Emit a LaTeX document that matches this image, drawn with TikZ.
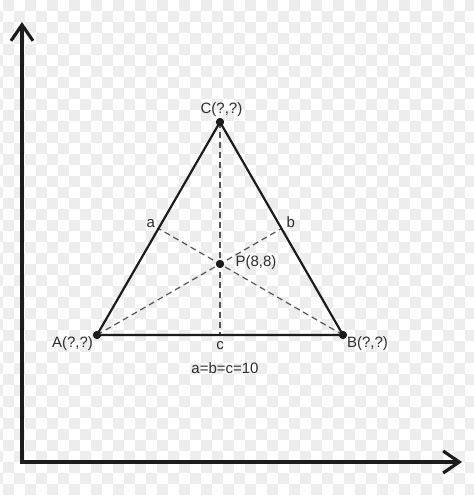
\documentclass[tikz,border=0pt]{standalone}
\usepackage{fontspec}
\setmainfont{Liberation Sans}
\usetikzlibrary{arrows.meta,calc}
\definecolor{ink}{HTML}{1C1C1C}
\definecolor{txt}{HTML}{2E2E2E}
\definecolor{dashc}{HTML}{555555}
\definecolor{check}{HTML}{EDEDED}
\begin{document}
\begin{tikzpicture}[x=1pt,y=-1pt,
  axis/.style={ink,line width=3.2pt,-{Straight Barb[length=16pt,width=22pt,line width=3.2pt]}},
  side/.style={ink,line width=2.2pt},
  median/.style={dashc,line width=1.2pt,dash pattern=on 6pt off 4pt},
  vertex/.style={circle,fill=ink,inner sep=0pt,minimum size=8pt},
  lbl/.style={text=txt,font=\fontsize{15}{17}\selectfont,anchor=base,inner sep=0pt}]
\useasboundingbox (0,0) rectangle (474,496);
% checkerboard background
\fill[white] (0,0) rectangle (474,496);
\begin{scope}
\clip (0,0) rectangle (474,496);
\foreach \i in {0,...,43}{
  \foreach \j in {0,...,45}{
    \pgfmathtruncatemacro{\myparity}{mod(\i+\j,2)}
    \ifnum\myparity=0
      \fill[check] ({2.8+11*(\i-1)},{-0.3+11*(\j-1)}) rectangle ++(11,11);
    \fi
  }
}
\end{scope}
% axes
\coordinate (O) at (22,462);
\coordinate (Ytip) at (22,22);
\coordinate (Xtip) at (462,462);
\draw[axis] ([yshift=-1.6pt]O) -- (Ytip);
\draw[axis] ([xshift=-1.6pt]O) -- (Xtip);
% triangle vertices
\node[vertex] (A) at (97,335) {};
\node[vertex] (B) at (343,335) {};
\node[vertex] (C) at (220,122) {};
\coordinate (ma) at ($(A.center)!0.5!(C.center)$);
\coordinate (mb) at ($(B.center)!0.5!(C.center)$);
\coordinate (mc) at ($(A.center)!0.5!(B.center)$);
\node[vertex] (P) at (220,264) {};
% medians
\draw[median] (A.center) -- (mb);
\draw[median] (B.center) -- (ma);
\draw[median] (C.center) -- (mc);
% sides
\draw[side] (A.center) -- (B.center) -- (C.center) -- cycle;
\node[vertex] at (A.center) {};
\node[vertex] at (B.center) {};
\node[vertex] at (C.center) {};
\node[vertex] at (P.center) {};
% labels
\node[lbl] (lC) at (221.5,113.5) {C(?,?)};
\node[lbl] (lA) at (72.5,347) {A(?,?)};
\node[lbl] (lB) at (367.5,347) {B(?,?)};
\node[lbl] (lP) at (256,266) {P(8,8)};
\node[lbl] (la) at (150.7,227.3) {a};
\node[lbl] (lb) at (290.7,227) {b};
\node[lbl] (lc) at (220,349) {c};
\node[lbl] (eq) at (225,373) {a=b=c=10};
\end{tikzpicture}
\end{document}
